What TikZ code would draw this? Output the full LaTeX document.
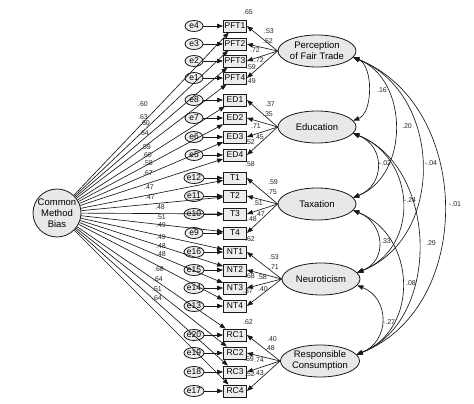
\documentclass[tikz,border=0pt]{standalone}
\usepackage{fontspec}
\setmainfont{Liberation Sans}
\usetikzlibrary{arrows.meta,
                shapes.geometric}

\begin{document}
\begin{tikzpicture}[
x = 1pt, y = -1pt,
   ink/.style = {draw=black!90, line width=0.8pt},
   lat/.style = {ellipse, ink, fill=black!9,
                 minimum width=78pt, minimum height=32pt, inner sep=0pt,
                 align=center, font=\fontsize{9.5}{11}\selectfont},
   ind/.style = {rectangle, ink, fill=black!7,
                 minimum width=23pt, minimum height=12pt, inner sep=0pt,
                 font=\fontsize{8.5}{10}\selectfont},
   err/.style = {ellipse, ink, fill=black!7,
                 minimum width=18pt, minimum height=11pt, inner sep=0pt,
                 font=\fontsize{8.5}{9}\selectfont},
   arr/.style = {draw=black!90, line width=0.65pt,
                 -{Triangle[length=6pt,width=4.5pt]}},
   cov/.style = {draw=black!90, line width=0.65pt,
                 {Triangle[length=6pt,width=4.5pt]}-{Triangle[length=6pt,width=4.5pt]}},
   num/.style = {inner sep=0pt, text=black!85,
                 font=\fontsize{7}{8}\selectfont},
                        ]
\useasboundingbox (0,0) rectangle (474,404);

% latent factors
\node[lat] (Fair)  at (317,51)  {Perception\\of Fair Trade};
\node[lat] (Edu)   at (317,127) {Education};
\node[lat] (Tax)   at (317,204) {Taxation};
\node[lat] (Neuro) at (321,279) {Neuroticism};
\node[lat] (Resp)  at (320,361) {Responsible\\Consumption};
\node[circle, ink, fill=black!9, minimum size=48pt, inner sep=0pt,
      align=center, font=\fontsize{9.5}{11}\selectfont]
      (CMB) at (57,213) {Common\\Method\\Bias};

% indicators with their error terms
\foreach \ind/\err/\y in {PFT1/e4/26, PFT2/e3/44, PFT3/e2/61, PFT4/e1/78,
                          ED1/e8/100, ED2/e7/118, ED3/e6/137, ED4/e5/155,
                          T1/e12/178, T2/e11/196, T3/e10/214, T4/e9/233,
                          NT1/e16/252, NT2/e15/270, NT3/e14/288, NT4/e13/306,
                          RC1/e20/335, RC2/e19/353, RC3/e18/372, RC4/e17/391}
{
\node[ind] (\ind) at (235,\y) {\ind};
\node[err] (\err) at (194,\y) {\err};
\draw[arr] (\err) -- (\ind);
}

\foreach \lat/\ind in {Fair/PFT, Edu/ED, Tax/T, Neuro/NT, Resp/RC}
  \foreach \i in {1,...,4}
  {
  \draw[arr] (\lat.west) -- (\ind\i.east);
  \draw[arr] (CMB) -- (\ind\i);
  }

% covariances
\foreach \a/\b/\c in {Fair/Edu/20, Fair/Tax/56, Fair/Neuro/89, Fair/Resp/119,
                      Edu/Tax/32, Edu/Neuro/63, Edu/Resp/85,
                      Tax/Neuro/31, Tax/Resp/63, Neuro/Resp/33}
    \draw[cov] (\a.-10) .. controls +(\c,0.4*\c) and +(\c,-0.4*\c) .. (\b.10);

% estimates
\foreach \x/\y/\v [count=\j] in {143/104/.60, 143/117/.63, 145/123/.60, 144/133/.64,
                                 146/147/.59, 147/155/.60, 148/163/.58, 148/173/.67,
                                 149/187/.47, 150/197/.47, 160/207/.48, 161/217/.51,
                                 161/225/.49, 161/237/.49, 161/246/.48, 161/254/.48,
                                 159/269/.68, 158/279/.64, 157/289/.51, 157/298/.64}
    \node[num] (cmb\j) at (\x,\y) {\v};
\foreach \x/\y/\v [count=\j] in {248/12/.65, 269/31/.53, 268/41/.52, 255/50/.72,
                                 259/60/.72, 251/67/.59, 251/81/.49,
                                 270/104/.37, 268/114/.35, 256/126/.71, 259/137/.45,
                                 250/142/.52, 250/164/.58,
                                 273/182/.59, 272/192/.75, 258/203/.51, 260/214/.47,
                                 252/219/.48, 250/239/.62,
                                 274/257/.53, 274/267/.71, 250/276/.68, 262/277/.58,
                                 248/291/.37, 263/289/.40,
                                 248/322/.62, 272/339/.40, 270/348/.48, 249/359/.59,
                                 259/360/.74, 250/374/.52, 259/373/.43}
    \node[num] (ld\j) at (\x,\y) {\v};
\foreach \x/\y/\v [count=\j] in {382/90/.16, 407/126/.20, 431/163/-.04, 455/204/-.01,
                                 385/163/-.02, 410/200/-.24, 431/243/.29,
                                 386/241/.33, 411/283/.08, 389/322/-.27}
    \node[num] (cv\j) at (\x,\y) {\v};
\end{tikzpicture}
\end{document}
